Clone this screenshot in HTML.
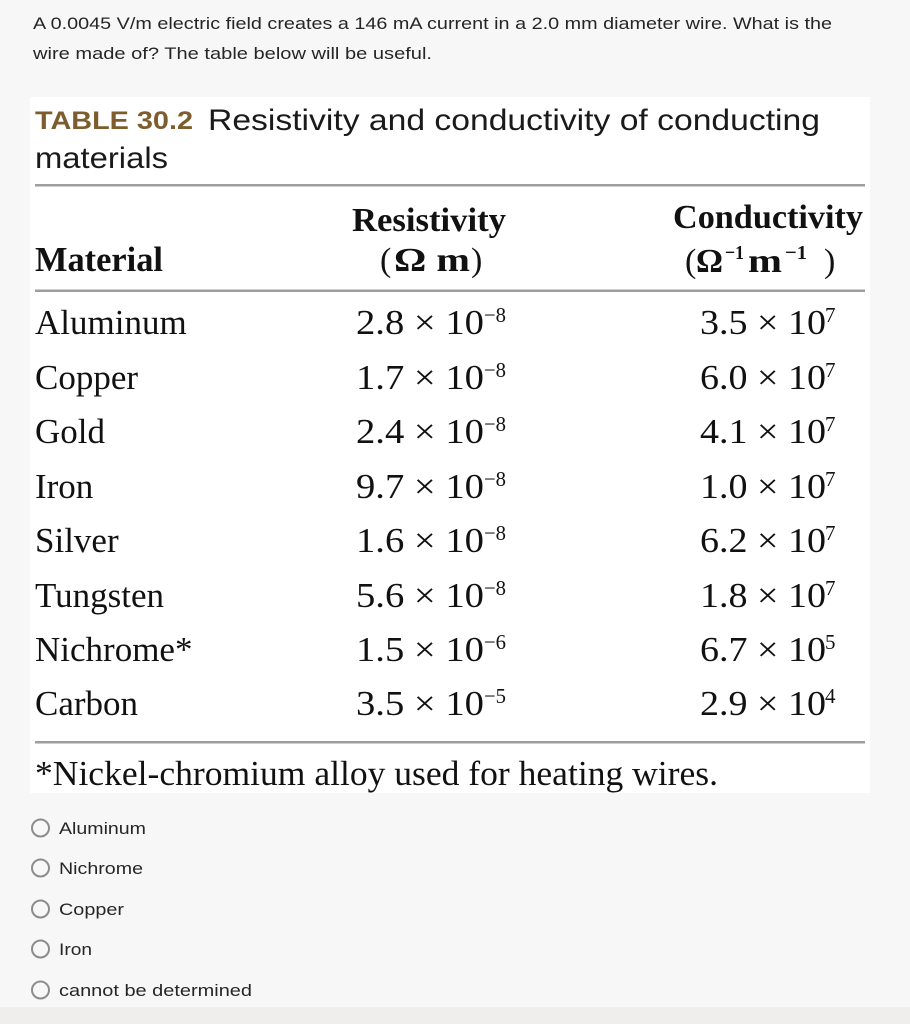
<!DOCTYPE html>
<html>
<head>
<meta charset="utf-8">
<style>
  html, body { margin: 0; padding: 0; background: #f8f7f7; }
  body { width: 910px; height: 1024px; overflow: hidden; }
  svg { display: block; }
</style>
</head>
<body>
<svg width="910" height="1024" viewBox="0 0 910 1024" xmlns="http://www.w3.org/2000/svg">
  <rect x="0" y="0" width="910" height="1024" fill="#f8f7f7"/>
  <rect x="0" y="1007" width="910" height="17" fill="#efeeed"/>

  <!-- Question -->
  <g font-family="Liberation Sans, sans-serif" font-size="17" fill="#262626">
    <text x="33" y="29" textLength="799" lengthAdjust="spacingAndGlyphs">A 0.0045 V/m electric field creates a 146 mA current in a 2.0 mm diameter wire.  What is the</text>
    <text x="33" y="59" textLength="399" lengthAdjust="spacingAndGlyphs">wire made of?  The table below will be useful.</text>
  </g>

  <!-- Table image -->
  <rect x="30" y="97" width="840" height="696" fill="#ffffff"/>

  <text x="35" y="129" font-family="Liberation Sans, sans-serif" font-weight="bold" font-size="25" fill="#7d5d2d" textLength="158" lengthAdjust="spacingAndGlyphs">TABLE 30.2</text>
  <text x="208" y="130" font-family="Liberation Sans, sans-serif" font-size="30" fill="#1a1a1a" textLength="612" lengthAdjust="spacingAndGlyphs">Resistivity and conductivity of conducting</text>
  <text x="35" y="168" font-family="Liberation Sans, sans-serif" font-size="30" fill="#1a1a1a" textLength="133" lengthAdjust="spacingAndGlyphs">materials</text>

  <rect x="35" y="184" width="830" height="2.5" fill="#9e9e9e"/>
  <rect x="35" y="289.5" width="830" height="2.5" fill="#9e9e9e"/>
  <rect x="35" y="741" width="830" height="2.5" fill="#9e9e9e"/>

  <g font-family="Liberation Serif, serif" fill="#111">
    <!-- headers -->
    <text x="35" y="271" font-size="35" font-weight="bold" textLength="128" lengthAdjust="spacingAndGlyphs">Material</text>
    <text x="352" y="231" font-size="34" font-weight="bold" textLength="154" lengthAdjust="spacingAndGlyphs">Resistivity</text>
    <text x="380" y="271" font-size="34">(</text>
    <text x="394" y="271" font-size="34" font-weight="bold" textLength="76" lengthAdjust="spacingAndGlyphs">Ω m</text>
    <text x="471" y="271" font-size="34">)</text>
    <text x="673" y="228" font-size="34" font-weight="bold" textLength="190" lengthAdjust="spacingAndGlyphs">Conductivity</text>
    <text x="685" y="272" font-size="34">(</text>
    <text x="696" y="272" font-size="34" font-weight="bold" textLength="27" lengthAdjust="spacingAndGlyphs">Ω</text>
    <text x="725" y="259" font-size="20" font-weight="bold" textLength="19" lengthAdjust="spacingAndGlyphs">−1</text>
    <text x="748" y="272" font-size="34" font-weight="bold" textLength="34" lengthAdjust="spacingAndGlyphs">m</text>
    <text x="785" y="259" font-size="20" font-weight="bold" textLength="22" lengthAdjust="spacingAndGlyphs">−1</text>
    <text x="824" y="272" font-size="34">)</text>

    <!-- rows -->
    <g font-size="35">
      <text x="35" y="334">Aluminum</text>
      <text x="35" y="389">Copper</text>
      <text x="35" y="443">Gold</text>
      <text x="35" y="498">Iron</text>
      <text x="35" y="552">Silver</text>
      <text x="35" y="607">Tungsten</text>
      <text x="35" y="661">Nichrome*</text>
      <text x="35" y="715">Carbon</text>
    </g>

    <!-- resistivity -->
    <g font-size="35">
      <text x="356" y="334" textLength="128" lengthAdjust="spacingAndGlyphs">2.8 × 10</text>
      <text x="356" y="389" textLength="128" lengthAdjust="spacingAndGlyphs">1.7 × 10</text>
      <text x="356" y="443" textLength="128" lengthAdjust="spacingAndGlyphs">2.4 × 10</text>
      <text x="356" y="498" textLength="128" lengthAdjust="spacingAndGlyphs">9.7 × 10</text>
      <text x="356" y="552" textLength="128" lengthAdjust="spacingAndGlyphs">1.6 × 10</text>
      <text x="356" y="607" textLength="128" lengthAdjust="spacingAndGlyphs">5.6 × 10</text>
      <text x="356" y="661" textLength="128" lengthAdjust="spacingAndGlyphs">1.5 × 10</text>
      <text x="356" y="715" textLength="128" lengthAdjust="spacingAndGlyphs">3.5 × 10</text>
    </g>
    <g font-size="21">
      <text x="484" y="322" textLength="22" lengthAdjust="spacingAndGlyphs">−8</text>
      <text x="484" y="377" textLength="22" lengthAdjust="spacingAndGlyphs">−8</text>
      <text x="484" y="431" textLength="22" lengthAdjust="spacingAndGlyphs">−8</text>
      <text x="484" y="486" textLength="22" lengthAdjust="spacingAndGlyphs">−8</text>
      <text x="484" y="540" textLength="22" lengthAdjust="spacingAndGlyphs">−8</text>
      <text x="484" y="595" textLength="22" lengthAdjust="spacingAndGlyphs">−8</text>
      <text x="484" y="649" textLength="22" lengthAdjust="spacingAndGlyphs">−6</text>
      <text x="484" y="703" textLength="22" lengthAdjust="spacingAndGlyphs">−5</text>
    </g>

    <!-- conductivity -->
    <g font-size="35">
      <text x="700" y="334" textLength="126" lengthAdjust="spacingAndGlyphs">3.5 × 10</text>
      <text x="700" y="389" textLength="126" lengthAdjust="spacingAndGlyphs">6.0 × 10</text>
      <text x="700" y="443" textLength="126" lengthAdjust="spacingAndGlyphs">4.1 × 10</text>
      <text x="700" y="498" textLength="126" lengthAdjust="spacingAndGlyphs">1.0 × 10</text>
      <text x="700" y="552" textLength="126" lengthAdjust="spacingAndGlyphs">6.2 × 10</text>
      <text x="700" y="607" textLength="126" lengthAdjust="spacingAndGlyphs">1.8 × 10</text>
      <text x="700" y="661" textLength="126" lengthAdjust="spacingAndGlyphs">6.7 × 10</text>
      <text x="700" y="715" textLength="126" lengthAdjust="spacingAndGlyphs">2.9 × 10</text>
    </g>
    <g font-size="21">
      <text x="825" y="322">7</text>
      <text x="825" y="377">7</text>
      <text x="825" y="431">7</text>
      <text x="825" y="486">7</text>
      <text x="825" y="540">7</text>
      <text x="825" y="595">7</text>
      <text x="825" y="649">5</text>
      <text x="825" y="703">4</text>
    </g>

    <text x="35" y="785" font-size="35" textLength="683" lengthAdjust="spacingAndGlyphs">*Nickel-chromium alloy used for heating wires.</text>
  </g>

  <!-- Radio options -->
  <g fill="none" stroke="#8c8c8c" stroke-width="2">
    <circle cx="40.5" cy="828" r="8.5"/>
    <circle cx="40.5" cy="868" r="8.5"/>
    <circle cx="40.5" cy="909" r="8.5"/>
    <circle cx="40.5" cy="949" r="8.5"/>
    <circle cx="40.5" cy="990" r="8.5"/>
  </g>
  <g font-family="Liberation Sans, sans-serif" font-size="17" fill="#262626">
    <text x="59" y="834" textLength="87" lengthAdjust="spacingAndGlyphs">Aluminum</text>
    <text x="59" y="874" textLength="84" lengthAdjust="spacingAndGlyphs">Nichrome</text>
    <text x="59" y="915" textLength="65" lengthAdjust="spacingAndGlyphs">Copper</text>
    <text x="59" y="955" textLength="33" lengthAdjust="spacingAndGlyphs">Iron</text>
    <text x="59" y="996" textLength="193" lengthAdjust="spacingAndGlyphs">cannot be determined</text>
  </g>
</svg>
</body>
</html>
